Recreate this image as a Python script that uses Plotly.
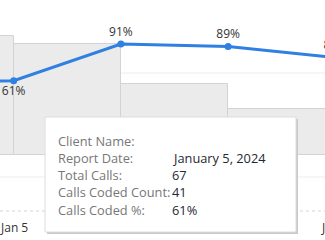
import pandas as pd
import plotly.graph_objects as go

# Daily call data
dates = ["2024-01-04", "2024-01-05", "2024-01-06", "2024-01-07", "2024-01-08"]
total_calls = [72, 67, 43, 28]          # bars (one per day, Jan 4 - Jan 7)
coded_pct = [60, 61, 91, 89, 80]        # line, percent of calls coded
tick_dates = ["2024-01-05", "2024-01-08"]
tick_labels = ["Jan 5", "Jan 8"]

# Tooltip contents for the highlighted day
tip_index = 1
tip_client = ""
tip_coded_count = 41

W, H = 325, 240
BLUE = "#2f80e0"
FONT = "Open Sans"

day_ms = 86400000
x0 = pd.Timestamp("2024-01-05") - pd.Timedelta(days=13.7 / 107.2)
x1 = pd.Timestamp("2024-01-05") + pd.Timedelta(days=(W - 13.7) / 107.2)

fig = go.Figure()

# bars on the primary axis, line on the overlaying axis so it is drawn on top
fig.add_trace(go.Bar(
    x=dates[:len(total_calls)], y=total_calls,
    offset=0, width=day_ms,
    marker=dict(color="#ebebeb", line=dict(color="#d3d3d3", width=1)),
    yaxis="y", hoverinfo="skip",
))

text_pos = ["bottom center", "bottom center", "top center", "top center", "top center"]
fig.add_trace(go.Scatter(
    x=dates, y=coded_pct,
    mode="lines+markers+text",
    line=dict(color=BLUE, width=3),
    marker=dict(color=BLUE, size=7),
    text=[f"{v}%" for v in coded_pct],
    textposition=text_pos,
    textfont=dict(family=FONT, size=12, color="#333333"),
    yaxis="y2", hoverinfo="skip",
))

# light horizontal rules and the dotted axis line
shapes = []
for yp, dash, col in [(1 - 73 / H, "solid", "#ededed"),
                      (1 - 177 / H, "solid", "#ededed"),
                      (1 - 211 / H, "dot", "#d4d4d4")]:
    shapes.append(dict(type="line", xref="paper", yref="paper", x0=0, x1=1,
                       y0=yp, y1=yp, layer="below",
                       line=dict(color=col, width=1, dash=dash)))

# tooltip box with shadow
tx0, ty0, tx1, ty1 = 45, 117, 296, 232
shapes.append(dict(type="rect", xref="paper", yref="paper",
                   x0=(tx0 + 2) / W, x1=(tx1 + 2) / W,
                   y0=1 - (ty1 + 2) / H, y1=1 - (ty0 + 2) / H,
                   fillcolor="#c9c9c9", line=dict(width=0), layer="above"))
shapes.append(dict(type="rect", xref="paper", yref="paper",
                   x0=tx0 / W, x1=tx1 / W, y0=1 - ty1 / H, y1=1 - ty0 / H,
                   fillcolor="white", line=dict(color="#dcdcdc", width=1), layer="above"))

annotations = []
# x-axis date labels placed from the axis range
span = (x1 - x0).total_seconds()
for d, lab in zip(tick_dates, tick_labels):
    frac = (pd.Timestamp(d) - x0).total_seconds() / span
    annotations.append(dict(x=frac, y=1 - 227 / H, xref="paper", yref="paper",
                            text=lab, showarrow=False, xanchor="center", yanchor="middle",
                            font=dict(family=FONT, size=12, color="#333333")))

tip_date = pd.Timestamp(dates[tip_index])
tip_rows = [
    ("Client Name:", tip_client),
    ("Report Date:", f"{tip_date:%B} {tip_date.day}, {tip_date.year}"),
    ("Total Calls:", str(total_calls[tip_index])),
    ("Calls Coded Count:", str(tip_coded_count)),
    ("Calls Coded %:", f"{coded_pct[tip_index]}%"),
]
row_y = [140.7, 157.5, 174.7, 192.0, 209.5]
for (lab, val), yy in zip(tip_rows, row_y):
    annotations.append(dict(x=56 / W, y=1 - yy / H, xref="paper", yref="paper",
                            text=lab, showarrow=False, xanchor="left", yanchor="middle",
                            font=dict(family=FONT, size=12.8, color="#777777")))
    if val:
        annotations.append(dict(x=169.5 / W, y=1 - yy / H, xref="paper", yref="paper",
                                text=val, showarrow=False, xanchor="left", yanchor="middle",
                                font=dict(family=FONT, size=12.8, color="#1f2933")))

fig.update_layout(
    width=W, height=H,
    margin=dict(l=0, r=0, t=0, b=0),
    paper_bgcolor="white", plot_bgcolor="white",
    showlegend=False, bargap=0,
    xaxis=dict(type="date", range=[x0, x1], showgrid=False, zeroline=False,
               showticklabels=False, showline=False),
    yaxis=dict(range=[-50.8, 93.45], showgrid=False, zeroline=False,
               showticklabels=False),
    yaxis2=dict(range=[-69.0, 126.9], overlaying="y", side="right",
                showgrid=False, zeroline=False, showticklabels=False),
    shapes=shapes,
    annotations=annotations,
)

fig.write_html("out.html")
